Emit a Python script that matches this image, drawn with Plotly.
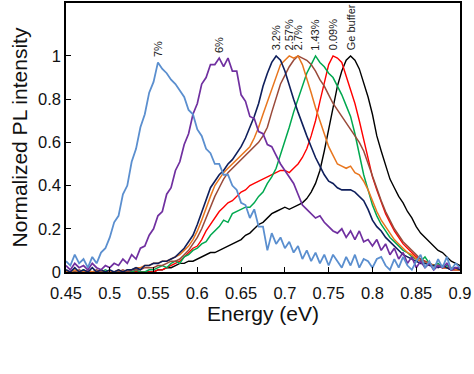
import numpy as np
import plotly.graph_objects as go

# Energy grid (eV), 0.45 .. 0.90 in 0.005 steps
energy = [round(0.45 + 0.005 * i, 3) for i in range(91)]

s7 = [0.05, 0.03, 0.08, 0.04, 0.06, 0.02, 0.07, 0.04, 0.09, 0.11,
      0.16, 0.23, 0.26, 0.36, 0.40, 0.51, 0.57, 0.67, 0.73, 0.83,
      0.88, 0.97, 0.94, 0.92, 0.89, 0.87, 0.84, 0.81, 0.75, 0.73,
      0.66, 0.63, 0.57, 0.55, 0.50, 0.50, 0.45, 0.45, 0.40, 0.38,
      0.32, 0.31, 0.25, 0.29, 0.21, 0.21, 0.10, 0.18, 0.13, 0.16,
      0.11, 0.14, 0.09, 0.12, 0.06, 0.10, 0.05, 0.09, 0.04, 0.08,
      0.03, 0.08, 0.05, 0.02, 0.07, 0.03, 0.08, 0.02, 0.06, 0.05,
      0.02, 0.06, 0.07, 0.03, 0.01, 0.06, 0.02, 0.07, 0.03, 0.01,
      0.05, 0.08, 0.02, 0.05, 0.01, 0.06, 0.02, 0.07, 0.01, 0.04,
      0.02]

s6 = [0.03, 0.01, 0.04, 0.02, 0.03, 0.01, 0.04, 0.02, 0.01, 0.03,
      0.02, 0.04, 0.03, 0.06, 0.04, 0.08, 0.06, 0.11, 0.12, 0.17,
      0.20, 0.26, 0.28, 0.36, 0.39, 0.47, 0.51, 0.59, 0.64, 0.73,
      0.78, 0.87, 0.90, 0.96, 0.96, 0.99, 0.95, 0.99, 0.93, 0.93,
      0.82, 0.79, 0.72, 0.71, 0.65, 0.64, 0.59, 0.58, 0.54, 0.50,
      0.47, 0.44, 0.41, 0.36, 0.31, 0.29, 0.27, 0.25, 0.26, 0.23,
      0.21, 0.19, 0.18, 0.20, 0.16, 0.19, 0.15, 0.19, 0.14, 0.15,
      0.12, 0.15, 0.10, 0.13, 0.08, 0.11, 0.06, 0.09, 0.04, 0.07,
      0.02, 0.05, 0.02, 0.04, 0.01, 0.03, 0.02, 0.04, 0.01, 0.02,
      0.02]

s32 = [0.01, 0.00, 0.02, 0.00, 0.01, 0.00, 0.02, 0.00, 0.01, 0.00,
       0.01, 0.00, 0.01, 0.00, 0.01, 0.01, 0.02, 0.01, 0.03, 0.03,
       0.04, 0.04, 0.05, 0.05, 0.06, 0.07, 0.09, 0.11, 0.14, 0.17,
       0.22, 0.28, 0.34, 0.39, 0.42, 0.45, 0.47, 0.50, 0.52, 0.55,
       0.58, 0.62, 0.67, 0.72, 0.78, 0.86, 0.92, 0.97, 1.00, 0.98,
       0.93, 0.86, 0.80, 0.74, 0.68, 0.63, 0.58, 0.53, 0.49, 0.45,
       0.42, 0.41, 0.39, 0.38, 0.38, 0.38, 0.37, 0.35, 0.33, 0.29,
       0.24, 0.21, 0.19, 0.16, 0.14, 0.12, 0.10, 0.08, 0.07, 0.06,
       0.05, 0.04, 0.04, 0.03, 0.03, 0.02, 0.03, 0.02, 0.01, 0.02,
       0.01]

s257 = [0.00, 0.00, 0.01, 0.00, 0.00, 0.01, 0.00, 0.00, 0.01, 0.00,
        0.00, 0.00, 0.01, 0.00, 0.01, 0.01, 0.02, 0.02, 0.03, 0.03,
        0.04, 0.04, 0.05, 0.05, 0.06, 0.07, 0.08, 0.10, 0.12, 0.15,
        0.19, 0.24, 0.30, 0.35, 0.40, 0.43, 0.46, 0.48, 0.50, 0.52,
        0.54, 0.56, 0.58, 0.62, 0.67, 0.73, 0.79, 0.85, 0.91, 0.96,
        0.98, 1.00, 0.99, 1.00, 0.96, 0.90, 0.83, 0.76, 0.70, 0.65,
        0.58, 0.54, 0.50, 0.49, 0.48, 0.49, 0.46, 0.45, 0.42, 0.38,
        0.33, 0.28, 0.24, 0.21, 0.18, 0.15, 0.13, 0.11, 0.09, 0.08,
        0.06, 0.05, 0.04, 0.04, 0.03, 0.03, 0.02, 0.02, 0.02, 0.01,
        0.01]

s27 = [0.00, 0.00, 0.00, 0.01, 0.00, 0.00, 0.00, 0.01, 0.00, 0.00,
       0.00, 0.00, 0.00, 0.01, 0.00, 0.01, 0.01, 0.01, 0.02, 0.02,
       0.02, 0.03, 0.03, 0.04, 0.05, 0.05, 0.06, 0.08, 0.10, 0.13,
       0.16, 0.20, 0.25, 0.30, 0.35, 0.39, 0.43, 0.46, 0.48, 0.50,
       0.52, 0.54, 0.56, 0.58, 0.60, 0.63, 0.67, 0.74, 0.80, 0.87,
       0.91, 0.95, 0.98, 1.00, 0.99, 0.98, 0.96, 0.93, 0.89, 0.86,
       0.82, 0.78, 0.75, 0.72, 0.69, 0.66, 0.63, 0.60, 0.56, 0.50,
       0.44, 0.38, 0.33, 0.28, 0.24, 0.20, 0.17, 0.14, 0.12, 0.10,
       0.08, 0.06, 0.05, 0.04, 0.03, 0.03, 0.02, 0.02, 0.01, 0.01,
       0.01]

s143 = [0.00, 0.00, 0.00, 0.00, 0.01, 0.00, 0.00, 0.00, 0.00, 0.01,
        0.00, 0.00, 0.00, 0.00, 0.00, 0.00, 0.01, 0.00, 0.00, 0.01,
        0.01, 0.02, 0.03, 0.02, 0.04, 0.05, 0.04, 0.07, 0.08, 0.10,
        0.11, 0.13, 0.14, 0.17, 0.19, 0.21, 0.24, 0.23, 0.27, 0.28,
        0.29, 0.30, 0.30, 0.32, 0.35, 0.37, 0.41, 0.44, 0.48, 0.54,
        0.60, 0.67, 0.74, 0.80, 0.87, 0.92, 0.96, 1.00, 0.97, 0.95,
        0.92, 0.90, 0.86, 0.82, 0.77, 0.72, 0.64, 0.55, 0.45, 0.38,
        0.31, 0.26, 0.22, 0.19, 0.16, 0.14, 0.12, 0.10, 0.09, 0.07,
        0.06, 0.05, 0.07, 0.04, 0.03, 0.04, 0.02, 0.03, 0.02, 0.02,
        0.01]

s009 = [0.00, 0.00, 0.00, 0.00, 0.00, 0.00, 0.00, 0.00, 0.00, 0.00,
        0.00, 0.00, 0.00, 0.00, 0.00, 0.00, 0.00, 0.00, 0.00, 0.00,
        0.00, 0.01, 0.01, 0.02, 0.03, 0.04, 0.05, 0.07, 0.09, 0.11,
        0.12, 0.15, 0.19, 0.22, 0.25, 0.28, 0.30, 0.32, 0.33, 0.35,
        0.37, 0.38, 0.40, 0.41, 0.42, 0.43, 0.44, 0.45, 0.46, 0.47,
        0.47, 0.46, 0.48, 0.50, 0.53, 0.57, 0.63, 0.70, 0.79, 0.88,
        0.96, 1.00, 0.99, 0.97, 0.91, 0.85, 0.78, 0.70, 0.61, 0.53,
        0.44, 0.38, 0.32, 0.27, 0.23, 0.19, 0.16, 0.13, 0.11, 0.09,
        0.07, 0.06, 0.05, 0.04, 0.03, 0.03, 0.02, 0.02, 0.01, 0.01,
        0.01]

sge = [0.00, 0.00, 0.00, 0.00, 0.00, 0.00, 0.00, 0.00, 0.00, 0.00,
       0.00, 0.00, 0.00, 0.00, 0.00, 0.00, 0.00, 0.00, 0.00, 0.00,
       0.00, 0.01, 0.01, 0.02, 0.02, 0.03, 0.04, 0.04, 0.05, 0.05,
       0.06, 0.07, 0.08, 0.09, 0.09, 0.10, 0.11, 0.12, 0.13, 0.14,
       0.15, 0.17, 0.18, 0.20, 0.22, 0.23, 0.25, 0.27, 0.28, 0.29,
       0.30, 0.29, 0.30, 0.31, 0.32, 0.34, 0.37, 0.41, 0.47, 0.56,
       0.66, 0.77, 0.86, 0.93, 0.98, 1.00, 0.98, 0.94, 0.88, 0.81,
       0.73, 0.63, 0.56, 0.49, 0.43, 0.39, 0.35, 0.32, 0.28, 0.25,
       0.21, 0.18, 0.16, 0.14, 0.12, 0.10, 0.09, 0.07, 0.05, 0.04,
       0.03]

series_names = ["Ge buffer", "0.09%", "1.43%", "2.7%", "2.57%", "3.2%", "6%", "7%"]
series_vals = [sge, s009, s143, s27, s257, s32, s6, s7]
series_colors = ["#000000", "#FF0000", "#00A84F", "#9A4A3A", "#E8761E", "#0F1F5C", "#7030A0", "#5B8FCF"]
series_widths = [1.4, 1.4, 1.5, 1.5, 1.5, 1.6, 1.7, 1.8]

x_ticks = [0.45, 0.5, 0.55, 0.6, 0.65, 0.7, 0.75, 0.8, 0.85, 0.9]
x_ticktext = ["0.45", "0.5", "0.55", "0.6", "0.65", "0.7", "0.75", "0.8", "0.85", "0.9"]
y_ticks = [0, 0.2, 0.4, 0.6, 0.8, 1.0]
y_ticktext = ["0", "0.2", "0.4", "0.6", "0.8", "1"]

FONT = "Arial, Liberation Sans, sans-serif"

fig = go.Figure()
for name, vals, col, w in zip(series_names, series_vals, series_colors, series_widths):
    fig.add_trace(go.Scatter(x=energy, y=vals, mode="lines", name=name,
                             line=dict(color=col, width=w), showlegend=False))

# labels above each peak (peak position taken from the data)
for name, vals in zip(series_names, series_vals):
    k = int(np.argmax(vals))
    fig.add_annotation(x=energy[k], y=vals[k] + 0.015, text=name, showarrow=False,
                       textangle=-90, xanchor="center", yanchor="bottom",
                       font=dict(family=FONT, size=11, color="#222222"))

fig.update_layout(
    width=474, height=374,
    margin=dict(l=66, r=14, t=1, b=102),
    paper_bgcolor="white", plot_bgcolor="white",
    font=dict(family=FONT, color="#111111"),
)
fig.update_xaxes(range=[0.45, 0.9], tickvals=x_ticks, ticktext=x_ticktext,
                 ticks="inside", ticklen=5, tickcolor="black", tickwidth=1,
                 showline=True, linecolor="black", linewidth=1.5, mirror=True,
                 showgrid=False, zeroline=False, ticklabelstandoff=5,
                 tickfont=dict(size=16.5),
                 title=dict(text="Energy (eV)", font=dict(size=21), standoff=4))
fig.update_yaxes(range=[0, 1.245], tickvals=y_ticks, ticktext=y_ticktext,
                 ticks="inside", ticklen=5, tickcolor="black", tickwidth=1,
                 showline=True, linecolor="black", linewidth=1.5, mirror=True,
                 showgrid=False, zeroline=False,
                 tickfont=dict(size=16.5),
                 title=dict(text="Normalized PL intensity", font=dict(size=21), standoff=5))

fig.write_html("out.html")
